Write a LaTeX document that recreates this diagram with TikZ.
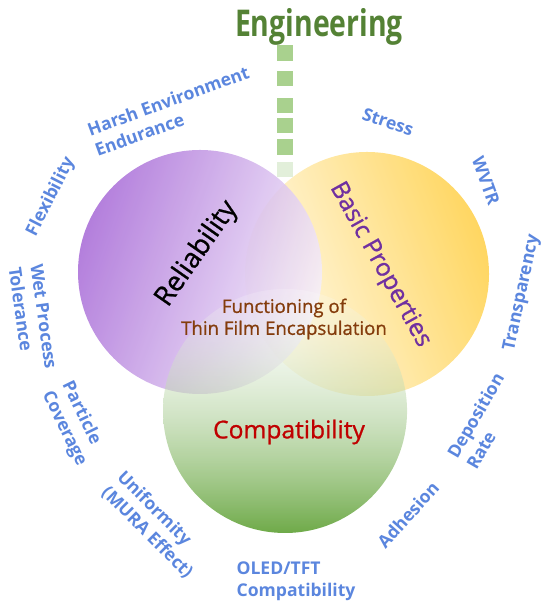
\documentclass[tikz,border=0pt]{standalone}
\usepackage{fontspec}
\setmainfont{Open Sans}
\newfontfamily\midfont[FakeBold=0.9]{Open Sans}
\usetikzlibrary{fadings}

\definecolor{labelblue}{RGB}{91,134,222}
\definecolor{enggreen}{RGB}{84,130,53}
\definecolor{sqgreen}{RGB}{169,209,142}
\definecolor{sqlight}{RGB}{226,239,218}
\definecolor{relpurple}{RGB}{166,104,214}
\definecolor{relpale}{RGB}{246,240,252}
\definecolor{basgold}{RGB}{255,210,80}
\definecolor{baspale}{RGB}{255,250,236}
\definecolor{comgreen}{RGB}{102,165,62}
\definecolor{commid}{RGB}{188,222,166}
\definecolor{propviolet}{RGB}{112,48,160}
\definecolor{funcbrown}{RGB}{132,60,12}
\definecolor{comred}{RGB}{192,0,0}

\tikzfading[name=fadegreen, top color=transparent!80, bottom color=transparent!0]

\tikzset{
  aspect/.style={text=labelblue, font=\fontsize{10}{12.5}\selectfont\bfseries, align=left, inner sep=0pt},
  ringname/.style={font=\fontsize{14}{16}\selectfont\midfont, inner sep=0pt},
  dashsq/.style={fill=sqgreen}
}

\begin{document}
\begin{tikzpicture}[x=0.02cm, y=0.02cm]
\useasboundingbox (0,0) rectangle (550,607);

\shade[top color=basgold, bottom color=baspale, shading angle=-70, fill opacity=0.9] (367,333) circle (122);
\shade[top color=relpurple, bottom color=relpale, shading angle=70, fill opacity=0.85] (200,335) circle (122);
\shade[top color=white, middle color=commid, bottom color=comgreen, fill opacity=0.95, path fading=fadegreen] (285,196) circle (122);

\foreach \ya/\yb in {562/546, 536/521, 509/494, 489/474, 468/452}
  \fill[dashsq] (277,\ya) rectangle (293,\yb);
\fill[sqlight] (277,445) rectangle (293,430);

\node[text=enggreen, font=\fontsize{21}{24}\selectfont\bfseries, anchor=base] (title) at (319,570) {\scalebox{0.77}[1]{Engineering}};

\node[ringname, font=\fontsize{15.5}{17}\selectfont\midfont, rotate=55] (reliability) at (197,353) {Reliability};
\node[ringname, text=propviolet, rotate=-61] (basic) at (380,342) {Basic Properties};
\node[ringname, text=comred, font=\fontsize{14}{16}\selectfont\midfont] (compat) at (289,175) {Compatibility};
\node[text=funcbrown, font=\fontsize{10.6}{12.5}\selectfont\midfont, align=center, inner sep=0pt] (func) at (284,288) {Functioning of\\Thin Film Encapsulation};

\node[aspect, rotate=20] (harsh) at (172,496) {Harsh Environment\\Endurance};
\node[aspect, rotate=63] (flex) at (51,410) {Flexibility};
\node[aspect, rotate=-82] (wet) at (33,289) {Wet Process\\Tolerance};
\node[aspect, rotate=-64] (particle) at (74,183) {Particle\\Coverage};
\node[aspect, rotate=-45] (unif) at (155,82) {Uniformity\\(MURA Effect)};
\node[aspect] (oled) at (296,26) {OLED/TFT\\Compatibility};
\node[aspect, rotate=48] (adhesion) at (408,92) {Adhesion};
\node[aspect, rotate=60] (deposition) at (485,186) {Deposition\\Rate};
\node[aspect, rotate=78] (transp) at (522,314) {Transparency};
\node[aspect, rotate=-70] (wvtr) at (486,426) {WVTR};
\node[aspect, rotate=-19] (stress) at (388,485) {Stress};
\end{tikzpicture}
\end{document}
